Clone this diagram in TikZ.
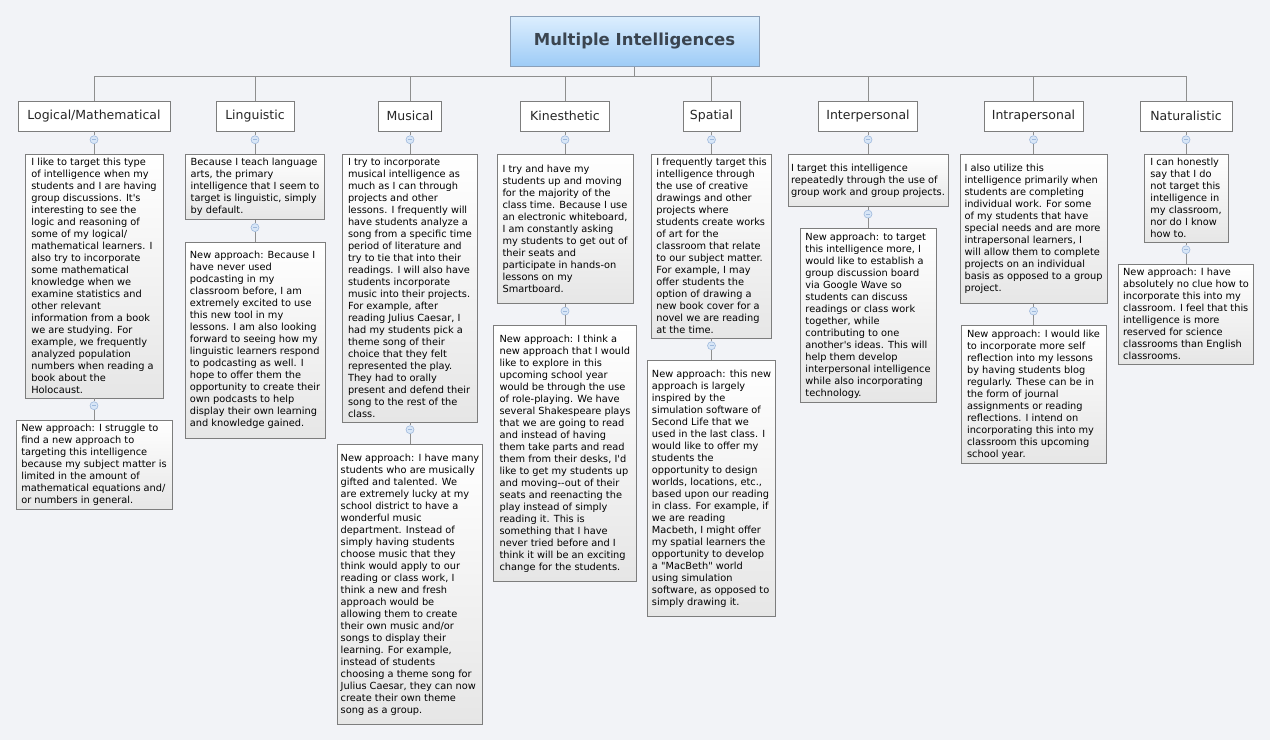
\documentclass[tikz,border=0pt]{standalone}
\usepackage{fontspec}
\setmainfont{DejaVu Sans}
\usetikzlibrary{positioning}
\definecolor{bgcol}{HTML}{F2F3F7}
\definecolor{wirecol}{HTML}{8E8E8E}
\definecolor{boxcol}{HTML}{7D7D7D}
\definecolor{shadecol}{HTML}{E6E6E6}
\definecolor{titletop}{HTML}{DCEEFE}
\definecolor{titlebot}{HTML}{9DCBF6}
\definecolor{titledraw}{HTML}{8A9FB8}
\definecolor{titletext}{HTML}{3B4550}
\definecolor{foldfill}{HTML}{D8E6F7}
\definecolor{folddraw}{HTML}{9FB9DC}
\begin{document}
\begin{tikzpicture}[x=1pt,y=1pt,
	wire/.style={draw=wirecol,line width=0.9pt},
	catbox/.style={draw=boxcol,fill=white,line width=0.8pt,minimum height=30pt,inner sep=0pt,font=\fontsize{12.5}{15}\selectfont,text=black!85},
	txtbox/.style={draw=boxcol,line width=0.8pt,top color=white,bottom color=shadecol,align=left,inner xsep=3pt,inner ysep=4pt,font=\fontsize{9.8}{12}\selectfont,text=black},
	fold/.style={circle,draw=folddraw,fill=foldfill,line width=0.6pt,minimum size=8pt,inner sep=0pt,path picture={\draw[folddraw,line width=0.8pt] ([xshift=-2pt]path picture bounding box.center)--([xshift=2pt]path picture bounding box.center);}}]
	\fill[bgcol] (0,0) rectangle (1270,-740);
	\node[draw=titledraw,line width=0.8pt,top color=titletop,bottom color=titlebot,minimum width=249pt,minimum height=50pt,text=titletext,font=\bfseries\fontsize{16.5}{20}\selectfont] (mi) at (634.5,-41.5) {Multiple Intelligences};
	\coordinate (bus) at (0,-76);
	\begin{scope}[every node/.style={catbox}]
	\node[minimum width=152pt] (c1) at (94,-116) {Logical/Mathematical};
	\node[minimum width=78pt] (c2) at (255,-116) {Linguistic};
	\node[minimum width=63pt] (c3) at (410,-116) {Musical};
	\node[minimum width=89pt] (c4) at (565,-116) {Kinesthetic};
	\node[minimum width=57pt] (c5) at (711.5,-116) {Spatial};
	\node[minimum width=99pt] (c6) at (868,-116) {Interpersonal};
	\node[minimum width=99pt] (c7) at (1033.5,-116) {Intrapersonal};
	\node[minimum width=92pt] (c8) at (1186,-116) {Naturalistic};
	\end{scope}
	\foreach \k in {1,...,8}
	{\node[fold,below=4pt of c\k] (m\k) {};}
	\node[txtbox,minimum width=138pt,below=10pt of m1] (a1) {I like to target this type\\of intelligence when my\\students and I are having\\group discussions. It\textquotesingle s\\interesting to see the\\logic and reasoning of\\some of my logical/\\mathematical learners. I\\also try to incorporate\\some mathematical\\knowledge when we\\examine statistics and\\other relevant\\information from a book\\we are studying. For\\example, we frequently\\analyzed population\\numbers when reading a\\book about the\\Holocaust.};
	\node[txtbox,minimum width=139pt,below=10pt of m2] (a2) {Because I teach language\\arts, the primary\\intelligence that I seem to\\target is linguistic, simply\\by default.};
	\node[txtbox,minimum width=135pt,below=10pt of m3] (a3) {I try to incorporate\\musical intelligence as\\much as I can through\\projects and other\\lessons. I frequently will\\have students analyze a\\song from a specific time\\period of literature and\\try to tie that into their\\readings. I will also have\\students incorporate\\music into their projects.\\For example, after\\reading Julius Caesar, I\\had my students pick a\\theme song of their\\choice that they felt\\represented the play.\\They had to orally\\present and defend their\\song to the rest of the\\class.};
	\node[txtbox,minimum width=136pt,minimum height=149pt,below=10pt of m4] (a4) {I try and have my\\students up and moving\\for the majority of the\\class time. Because I use\\an electronic whiteboard,\\I am constantly asking\\my students to get out of\\their seats and\\participate in hands-on\\lessons on my\\Smartboard.};
	\node[txtbox,minimum width=120pt,below=10pt of m5] (a5) {I frequently target this\\intelligence through\\the use of creative\\drawings and other\\projects where\\students create works\\of art for the\\classroom that relate\\to our subject matter.\\For example, I may\\offer students the\\option of drawing a\\new book cover for a\\novel we are reading\\at the time.};
	\node[txtbox,minimum width=160pt,minimum height=52pt,below=10pt of m6] (a6) {I target this intelligence\\repeatedly through the use of\\group work and group projects.};
	\node[txtbox,minimum width=147pt,minimum height=149pt,below=10pt of m7] (a7) {I also utilize this\\intelligence primarily when\\students are completing\\individual work. For some\\of my students that have\\special needs and are more\\intrapersonal learners, I\\will allow them to complete\\projects on an individual\\basis as opposed to a group\\project.};
	\node[txtbox,minimum width=84pt,below=10pt of m8] (a8) {I can honestly\\say that I do\\not target this\\intelligence in\\my classroom,\\nor do I know\\how to.};
	\foreach \k in {1,...,8}
	{\node[fold,below=3pt of a\k] (n\k) {};}
	\node[txtbox,minimum width=156pt,below=10pt of n1] (b1) {New approach: I struggle to\\find a new approach to\\targeting this intelligence\\because my subject matter is\\limited in the amount of\\mathematical equations and/\\or numbers in general.};
	\node[txtbox,minimum width=140pt,minimum height=196pt,below=10pt of n2] (b2) {New approach: Because I\\have never used\\podcasting in my\\classroom before, I am\\extremely excited to use\\this new tool in my\\lessons. I am also looking\\forward to seeing how my\\linguistic learners respond\\to podcasting as well. I\\hope to offer them the\\opportunity to create their\\own podcasts to help\\display their own learning\\and knowledge gained.};
	\node[txtbox,minimum width=144pt,minimum height=280pt,below=10pt of n3] (b3) {New approach: I have many\\students who are musically\\gifted and talented. We\\are extremely lucky at my\\school district to have a\\wonderful music\\department. Instead of\\simply having students\\choose music that they\\think would apply to our\\reading or class work, I\\think a new and fresh\\approach would be\\allowing them to create\\their own music and/or\\songs to display their\\learning. For example,\\instead of students\\choosing a theme song for\\Julius Caesar, they can now\\create their own theme\\song as a group.};
	\node[txtbox,minimum width=143pt,minimum height=256pt,below=10pt of n4] (b4) {New approach: I think a\\new approach that I would\\like to explore in this\\upcoming school year\\would be through the use\\of role-playing. We have\\several Shakespeare plays\\that we are going to read\\and instead of having\\them take parts and read\\them from their desks, I\textquotesingle d\\like to get my students up\\and moving-{}-out of their\\seats and reenacting the\\play instead of simply\\reading it. This is\\something that I have\\never tried before and I\\think it will be an exciting\\change for the students.};
	\node[txtbox,minimum width=128pt,minimum height=256pt,below=10pt of n5] (b5) {New approach: this new\\approach is largely\\inspired by the\\simulation software of\\Second Life that we\\used in the last class. I\\would like to offer my\\students the\\opportunity to design\\worlds, locations, etc.,\\based upon our reading\\in class. For example, if\\we are reading\\Macbeth, I might offer\\my spatial learners the\\opportunity to develop\\a \textquotedbl MacBeth\textquotedbl{} world\\using simulation\\software, as opposed to\\simply drawing it.};
	\node[txtbox,minimum width=136pt,below=10pt of n6] (b6) {New approach: to target\\this intelligence more, I\\would like to establish a\\group discussion board\\via Google Wave so\\students can discuss\\readings or class work\\together, while\\contributing to one\\another\textquotesingle s ideas. This will\\help them develop\\interpersonal intelligence\\while also incorporating\\technology.};
	\node[txtbox,minimum width=145pt,below=10pt of n7] (b7) {New approach: I would like\\to incorporate more self\\reflection into my lessons\\by having students blog\\regularly. These can be in\\the form of journal\\assignments or reading\\reflections. I intend on\\incorporating this into my\\classroom this upcoming\\school year.};
	\node[txtbox,minimum width=135pt,below=10pt of n8] (b8) {New approach: I have\\absolutely no clue how to\\incorporate this into my\\classroom. I feel that this\\intelligence is more\\reserved for science\\classrooms than English\\classrooms.};
	\draw[wire] (mi) -- (mi |- bus);
	\draw[wire] (c1 |- bus) -- (c8 |- bus);
	\draw[wire] \foreach \k in {1,...,8}
	{(c\k) -- (c\k |- bus) (c\k) -- (m\k) -- (a\k) -- (n\k) -- (b\k)};
\end{tikzpicture}
\end{document}
